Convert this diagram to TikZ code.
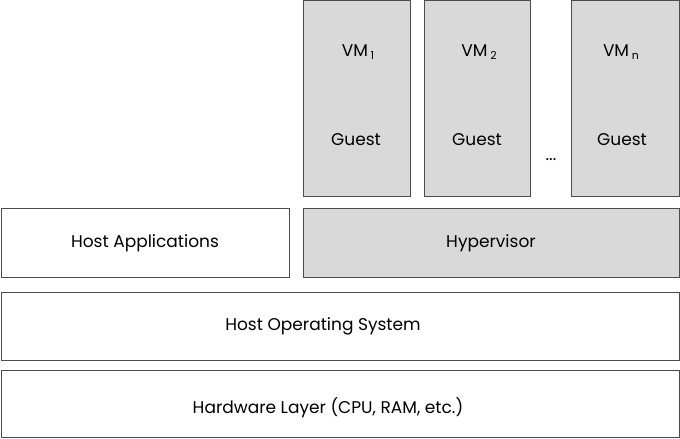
\documentclass[tikz,border=0pt]{standalone}
\usepackage{fontspec}
\setmainfont{Poppins}
\newcommand{\subs}[1]{\,\raisebox{-0.35ex}{\fontsize{11}{12}\selectfont #1}}
\begin{document}
\begin{tikzpicture}[x=1pt,y=-1pt,
  box/.style={draw=black!70,line width=0.8pt,inner sep=0pt},
  gbox/.style={box,fill=black!15},
  lbl/.style={font=\fontsize{17}{20}\selectfont}]
\useasboundingbox (0,0) rectangle (680,439);
\draw[gbox] (303.5,0.5) rectangle (410,196) coordinate (vm1);
\draw[gbox] (424,0.5) rectangle (530,196) coordinate (vm2);
\draw[gbox] (571,0.5) rectangle (679,196) coordinate (vmn);
\node[lbl] (t1) at (358,52) {VM\subs{1}};
\node[lbl] (g1) at (356,140) {Guest};
\node[lbl] (t2) at (479,52) {VM\subs{2}};
\node[lbl] (g2) at (477,140) {Guest};
\node[lbl] (tn) at (621,52) {VM\subs{n}};
\node[lbl] (gn) at (622,140) {Guest};
\node[lbl] (dots) at (551,160) {...};
\draw[box] (1.5,208.5) rectangle (289,277);
\node[lbl] (ha) at (145,243) {Host Applications};
\draw[gbox] (303.5,208.5) rectangle (679,277);
\node[lbl] (hv) at (491,243) {Hypervisor};
\draw[box] (1.5,292) rectangle (679,360);
\node[lbl] (os) at (323,326) {Host Operating System};
\draw[box] (1.5,370) rectangle (679,437.5);
\node[lbl] (hw) at (328,408) {Hardware Layer (CPU, RAM, etc.)};
\end{tikzpicture}
\end{document}
